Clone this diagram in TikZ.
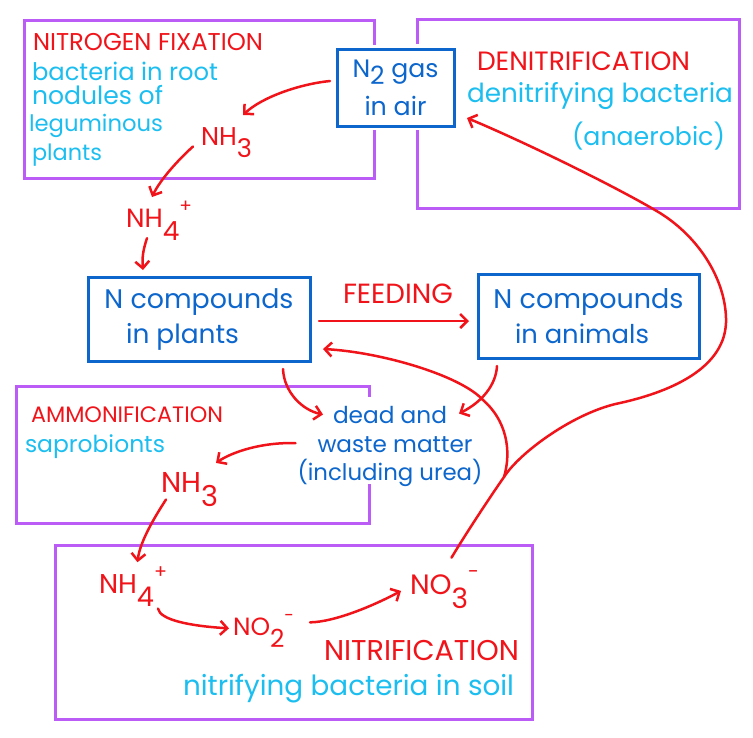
\documentclass[tikz,border=0pt]{standalone}
\usepackage{fontspec}
\usepackage{graphicx}
\usetikzlibrary{arrows.meta}
\newfontfamily\hand{Poppins}
\definecolor{redc}{RGB}{240,20,26}
\definecolor{cyanc}{RGB}{28,190,240}
\definecolor{bluec}{RGB}{12,102,204}
\definecolor{purp}{RGB}{188,92,246}
\newcommand{\fitw}[2]{\resizebox{#1pt}{!}{#2}}
\newcommand{\chsub}[1]{\raisebox{-0.5em}{#1}}
\newcommand{\lowsub}[1]{\raisebox{-0.3em}{#1}}
\newcommand{\chsup}[1]{\raisebox{0.55em}{\scalebox{0.7}{#1}}}
\begin{document}
\begin{tikzpicture}[x=1pt,y=-1pt,
  pbox/.style={draw=purp, line width=3pt},
  bbox/.style={draw=bluec, line width=3pt, text=bluec, align=center, inner sep=0pt, outer sep=0pt, font=\hand\fontsize{24}{35}\selectfont},
  ttl/.style={text=redc, inner sep=0pt, outer sep=0pt, anchor=base west, font=\hand\fontsize{24}{29}\selectfont},
  cy/.style={text=cyanc, inner sep=0pt, outer sep=0pt, anchor=base west, font=\hand\fontsize{24}{29}\selectfont},
  bt/.style={text=bluec, inner sep=0pt, outer sep=0pt, anchor=base, font=\hand\fontsize{24}{29}\selectfont},
  chem/.style={text=redc, inner sep=0pt, outer sep=0pt, anchor=base west, font=\hand\fontsize{24}{29}\selectfont},
  rarr/.style={draw=redc, line width=2.5pt, line cap=round, line join=round, -{Straight Barb[length=7pt,width=14pt]}}
]
\useasboundingbox (0,0) rectangle (753,737);
% purple boxes
\draw[pbox] (374,45) -- (374,20) -- (24,20) -- (24,178) -- (374,178) -- (374,130);
\draw[pbox] (417,130) -- (417,208) -- (739,208) -- (739,19) -- (417,19) -- (417,44);
\draw[pbox] (369,484) -- (369,523) -- (16,523) -- (16,386) -- (369,386) -- (369,397);
\draw[pbox] (55,545) rectangle (532,719);
% blue boxes
\node[bbox, font=\hand\fontsize{24}{38}\selectfont, minimum width=117pt, minimum height=77pt] (n2) at (395.5,87.5) {\fitw{86}{N\lowsub{2} gas}\\\fitw{62}{in air}};
\node[bbox, minimum width=222pt, minimum height=84pt] (plants) at (199,319) {\fitw{189}{N compounds}\\\makebox[146pt][l]{\fitw{113}{in plants}}};
\node[bbox, minimum width=221pt, minimum height=84pt] (animals) at (588.5,316) {\fitw{190}{N compounds}\\\makebox[147pt][l]{\fitw{134}{in animals}}};
% labels
\node[ttl] (nfT) at (33,50) {\fitw{230}{NITROGEN FIXATION}};
\node[cy] (nf1) at (32,80) {\fitw{186}{bacteria in root}};
\node[cy] (nf2) at (32,104) {\fitw{131}{nodules of}};
\node[cy] (nf3) at (29,131) {\fitw{134}{leguminous}};
\node[cy] (nf4) at (32,160) {\fitw{70}{plants}};
\node[ttl] (dnT) at (477,70) {\fitw{213}{DENITRIFICATION}};
\node[cy] (dn1) at (467,102) {\fitw{266}{denitrifying bacteria}};
\node[cy] (dn2) at (572,145) {\fitw{153}{(anaerobic)}};
\node[ttl] (feed) at (343,303) {\fitw{110}{FEEDING}};
\node[ttl] (amT) at (31,422) {\fitw{192}{AMMONIFICATION}};
\node[cy] (am1) at (25,452) {\fitw{140}{saprobionts}};
\node[ttl] (niT) at (324,660) {\fitw{195}{NITRIFICATION}};
\node[cy] (ni1) at (183,695) {\fitw{331}{nitrifying bacteria in soil}};
\node[bt] (dead1) at (390,423) {\fitw{114}{dead and}};
\node[bt] (dead2) at (395,452) {\fitw{155}{waste matter}};
\node[bt] (dead3) at (390,480) {\fitw{185}{(including urea)}};
% chemical species
\node[chem] (nh3a) at (201,145) {\fitw{51}{NH\chsub{3}}};
\node[chem] (nh4a) at (126,227) {\fitw{66}{NH\chsub{4}\chsup{+}}};
\node[chem] (nh3b) at (161,492) {\fitw{57}{NH\chsub{3}}};
\node[chem] (nh4b) at (99,593) {\fitw{68}{NH\chsub{4}\chsup{+}}};
\node[chem] (no2) at (233,635) {\fitw{61}{NO\chsub{2}\chsup{-}}};
\node[chem] (no3) at (410,594) {\fitw{69}{NO\chsub{3}\chsup{-}}};
\coordinate (J) at (504,477);
% connectors
\draw[rarr] ([xshift=-7pt,yshift=6.5pt]n2.west) .. controls (300,84) and (262,97) .. ([xshift=-9pt,yshift=12pt]nh3a.north east);
\draw[rarr] ([xshift=-8pt,yshift=-4pt]nh3a.west) .. controls (178,160) and (160,180) .. ([xshift=-7pt,yshift=4pt]nh4a.north);
\draw[rarr] ([xshift=-12pt,yshift=2pt]nh4a.south) .. controls (143,250) and (142,258) .. ([xshift=55pt,yshift=7pt]plants.north west);
\draw[rarr] ([xshift=9pt,yshift=-2pt]plants.east) -- ([xshift=-9pt,yshift=-5pt]animals.west);
\draw[rarr] ([xshift=-27pt,yshift=-8pt]plants.south east) .. controls (284,392) and (302,410) .. ([xshift=-10pt]dead1.west);
\draw[rarr] ([xshift=19pt,yshift=-8pt]animals.south west) .. controls (496,385) and (482,402) .. ([xshift=12pt,yshift=1pt]dead1.east);
\draw[rarr] ([xshift=-22pt,yshift=1pt]dead2.west) .. controls (262,442) and (232,452) .. ([xshift=-2pt,yshift=9pt]nh3b.north east);
\draw[rarr] ([xshift=5pt,yshift=7pt]nh3b.south west) .. controls (158,512) and (140,540) .. ([xshift=4.5pt,yshift=4pt]nh4b.north);
\draw[rarr] ([xshift=-9pt,yshift=-2pt]nh4b.south east) .. controls (160,620) and (190,626) .. ([xshift=-4pt,yshift=2.5pt]no2.west);
\draw[rarr] ([xshift=16pt,yshift=8.5pt]no2.east) .. controls (335,622) and (375,605) .. ([xshift=-9pt,yshift=-1.5pt]no3.west);
\draw[rarr] ([xshift=7pt,yshift=13pt]no3.north) .. controls (465,535) and (490,497) .. (J)
  .. controls (520,452) and (575,412) .. (620,403)
  .. controls (665,393) and (728,370) .. (726,318)
  .. controls (725,280) and (700,238) .. (660,213)
  .. controls (615,186) and (520,140) .. ([xshift=13pt,yshift=8pt]n2.south east);
\draw[rarr] (J) .. controls (512,450) and (506,420) .. (483,400)
  .. controls (460,375) and (380,352) .. ([xshift=13pt,yshift=12pt]plants.south east);
\end{tikzpicture}
\end{document}
